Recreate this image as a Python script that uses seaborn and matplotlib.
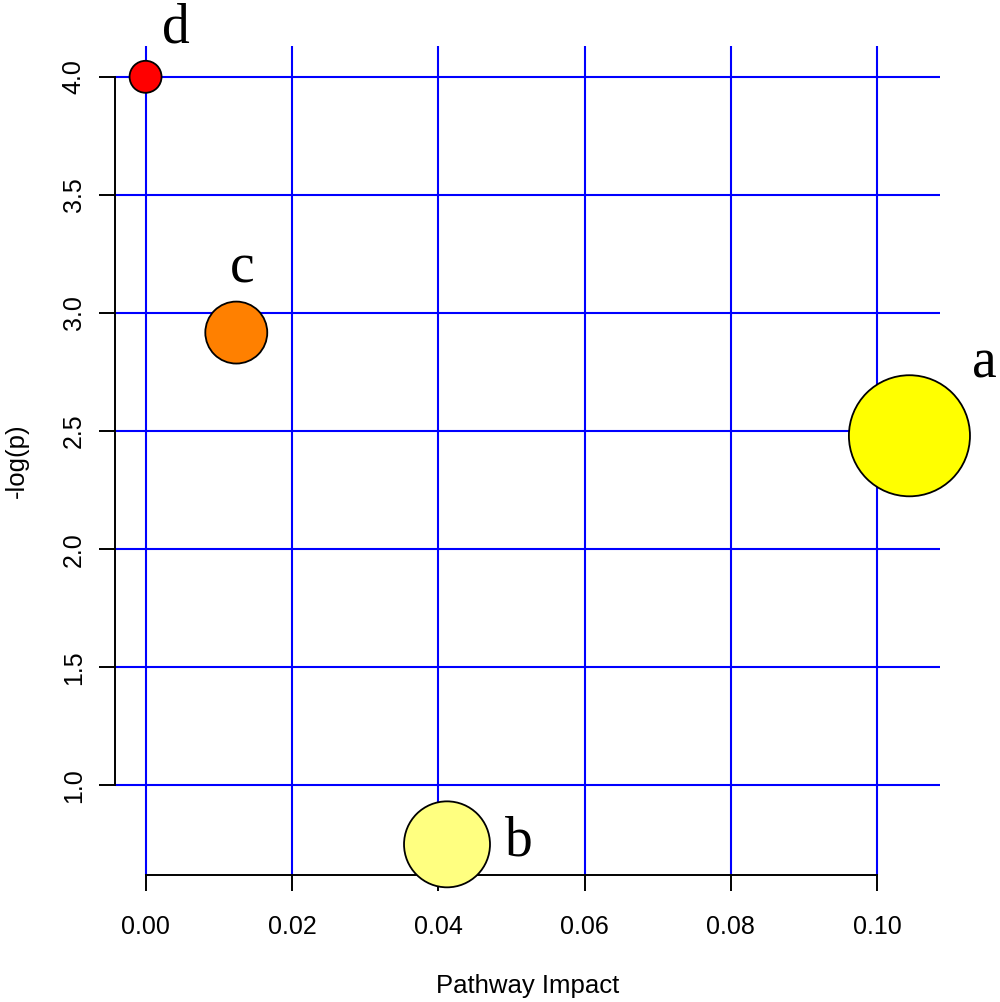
import seaborn as sns
import pandas as pd
import matplotlib.pyplot as plt

# pathway data
names = ["a", "b", "c", "d"]
impact = [0.1044, 0.0412, 0.0124, 0.0]
logp = [2.480, 0.750, 2.917, 4.0]

x_ticks = [0.00, 0.02, 0.04, 0.06, 0.08, 0.10]
y_ticks = [1.0, 1.5, 2.0, 2.5, 3.0, 3.5, 4.0]

# styling
colors = {"a": "#FFFF00", "b": "#FFFF80", "c": "#FF8000", "d": "#FF0000"}
marker_area = {"a": 7600, "b": 3832, "c": 1990, "d": 530}
label_offset = {"a": (54, 42), "b": (52, -8), "c": (4, 36), "d": (22, 25)}

df = pd.DataFrame({"name": names, "impact": impact, "logp": logp})

sns.set_style("white")
plt.rcParams['font.family'] = ['Liberation Sans', 'DejaVu Sans']
plt.rcParams['text.color'] = 'black'
plt.rcParams['axes.labelcolor'] = 'black'

fig = plt.figure(figsize=(10, 10.02), dpi=100)
ax = fig.add_axes([0.115, 0.1267, 0.825, 0.8273])

sns.scatterplot(data=df, x="impact", y="logp", hue="name", palette=colors,
                size="name", sizes=marker_area, edgecolor="black",
                linewidth=1.3, legend=False, zorder=3, clip_on=False, ax=ax)

for n, xv, yv in zip(names, impact, logp):
    ax.annotate(n, (xv, yv), xytext=label_offset[n], textcoords="offset points",
                ha="center", va="baseline", fontsize=40, color="black",
                family=["Liberation Serif", "DejaVu Serif"], zorder=4,
                annotation_clip=False)

# R style limits: 4% extension
xr = max(impact) - min(impact)
yr = max(logp) - min(logp)
ax.set_xlim(min(impact) - 0.04 * xr, max(impact) + 0.04 * xr)
ax.set_ylim(min(logp) - 0.04 * yr, max(logp) + 0.04 * yr)

ax.set_xticks(x_ticks)
ax.set_yticks(y_ticks)
ax.set_xticklabels([f"{v:.2f}" for v in x_ticks])
ax.set_yticklabels([f"{v:.1f}" for v in y_ticks])

ax.grid(True, color="blue", linewidth=1.5)
ax.set_axisbelow(True)

for s in ["top", "right"]:
    ax.spines[s].set_visible(False)
ax.spines["left"].set_bounds(min(y_ticks), max(y_ticks))
ax.spines["bottom"].set_bounds(min(x_ticks), max(x_ticks))
for s in ["left", "bottom"]:
    ax.spines[s].set_color("black")
    ax.spines[s].set_linewidth(1.4)

ax.tick_params(axis="both", bottom=True, left=True, direction="out",
               length=11.5, width=1.4, color="black",
               labelsize=18, labelcolor="black")
ax.tick_params(axis="x", pad=17)
ax.tick_params(axis="y", pad=9.5, labelrotation=90)
for lab in ax.get_yticklabels():
    lab.set_va("center")

ax.set_xlabel("Pathway Impact", fontsize=18.5)
ax.set_ylabel("-log(p)", fontsize=18.5)
ax.xaxis.set_label_coords(0.5, -0.1194)
ax.yaxis.set_label_coords(-0.1045, 0.5)

plt.savefig("out.png", dpi=100)
